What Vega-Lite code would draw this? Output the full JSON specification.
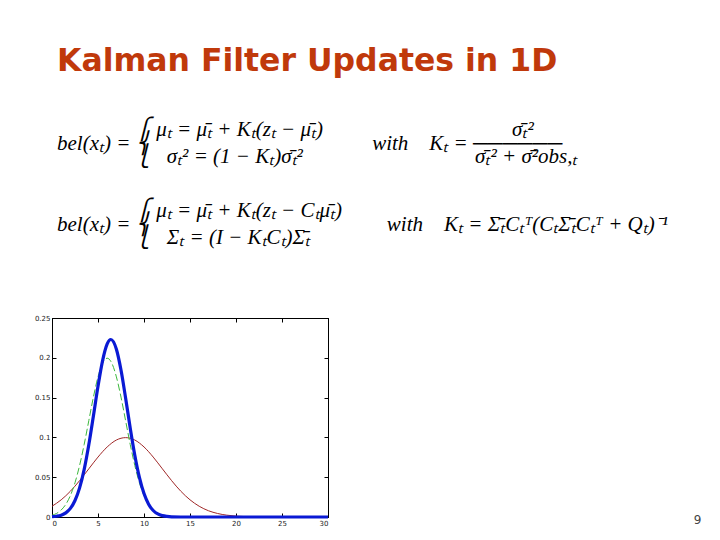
{
  "$schema": "https://vega.github.io/schema/vega-lite/v6.json",
  "width": 276,
  "height": 199,
  "autosize": {"type": "none"},
  "padding": {"left": 52, "top": 318, "right": 392, "bottom": 23},
  "background": "white",
  "title": {
    "text": "Kalman Filter Updates in 1D",
    "subtitle": [
      "\u2800\u2003\u2003\u2003⎧ μₜ = μ̄ₜ + Kₜ(zₜ − μ̄ₜ)\u2003\u2003\u2003\u2003\u2003\u2003\u2003\u2003\u2003σ̄ₜ²",
      "bel(xₜ) = ⎨\u2003\u2003\u2003\u2003\u2003\u2003\u2003\u2003\u2003\u2003\u2002with\u2003Kₜ = ──────",
      "\u2800\u2003\u2003\u2003⎩\u2002 σₜ² = (1 − Kₜ)σ̄ₜ²\u2003\u2003\u2003\u2003\u2003\u2003\u2003\u2002\u2002\u2009σ̄ₜ² + σ̄²obs,ₜ",
      "\u2800",
      "\u2800",
      "\u2800",
      "\u2800\u2003\u2003\u2003⎧ μₜ = μ̄ₜ + Kₜ(zₜ − Cₜμ̄ₜ)",
      "bel(xₜ) = ⎨\u2003\u2003\u2003\u2003\u2003\u2003\u2003\u2003\u2003\u2003\u2003\u2009with\u2003Kₜ = Σ̄ₜCₜᵀ(CₜΣ̄ₜCₜᵀ + Qₜ)⁻¹",
      "\u2800\u2003\u2003\u2003⎩\u2002 Σₜ = (I − KₜCₜ)Σ̄ₜ"
    ],
    "anchor": "start",
    "frame": "group",
    "dx": 5,
    "offset": 66,
    "font": "DejaVu Sans",
    "fontSize": 31.5,
    "fontWeight": "bold",
    "color": "#c0390b",
    "subtitleFont": "Liberation Serif",
    "subtitleFontSize": 21,
    "subtitleFontStyle": "italic",
    "subtitleColor": "#000000",
    "subtitleLineHeight": 13.5,
    "subtitlePadding": 42
  },
  "datasets": {
    "curves": [
      {"x": 0, "y": 0.0135, "series": "prior"},
      {"x": 1, "y": 0.0216, "series": "prior"},
      {"x": 2, "y": 0.0324, "series": "prior"},
      {"x": 3, "y": 0.0457, "series": "prior"},
      {"x": 4, "y": 0.0605, "series": "prior"},
      {"x": 5, "y": 0.0753, "series": "prior"},
      {"x": 6, "y": 0.088, "series": "prior"},
      {"x": 7, "y": 0.0967, "series": "prior"},
      {"x": 8, "y": 0.0997, "series": "prior"},
      {"x": 9, "y": 0.0967, "series": "prior"},
      {"x": 10, "y": 0.088, "series": "prior"},
      {"x": 11, "y": 0.0753, "series": "prior"},
      {"x": 12, "y": 0.0605, "series": "prior"},
      {"x": 13, "y": 0.0457, "series": "prior"},
      {"x": 14, "y": 0.0324, "series": "prior"},
      {"x": 15, "y": 0.0216, "series": "prior"},
      {"x": 16, "y": 0.0135, "series": "prior"},
      {"x": 17, "y": 0.0079, "series": "prior"},
      {"x": 18, "y": 0.0044, "series": "prior"},
      {"x": 19, "y": 0.0023, "series": "prior"},
      {"x": 20, "y": 0.0011, "series": "prior"},
      {"x": 21, "y": 0.0005, "series": "prior"},
      {"x": 22, "y": 0.0002, "series": "prior"},
      {"x": 23, "y": 0.0001, "series": "prior"},
      {"x": 24, "y": 0, "series": "prior"},
      {"x": 30, "y": 0, "series": "prior"},
      {"x": 0, "y": 0.0022, "series": "measurement"},
      {"x": 0.5, "y": 0.0045, "series": "measurement"},
      {"x": 1, "y": 0.0088, "series": "measurement"},
      {"x": 1.5, "y": 0.0159, "series": "measurement"},
      {"x": 2, "y": 0.027, "series": "measurement"},
      {"x": 2.5, "y": 0.0431, "series": "measurement"},
      {"x": 3, "y": 0.0648, "series": "measurement"},
      {"x": 3.5, "y": 0.0913, "series": "measurement"},
      {"x": 4, "y": 0.121, "series": "measurement"},
      {"x": 4.5, "y": 0.1506, "series": "measurement"},
      {"x": 5, "y": 0.176, "series": "measurement"},
      {"x": 5.5, "y": 0.1933, "series": "measurement"},
      {"x": 6, "y": 0.1995, "series": "measurement"},
      {"x": 6.5, "y": 0.1933, "series": "measurement"},
      {"x": 7, "y": 0.176, "series": "measurement"},
      {"x": 7.5, "y": 0.1506, "series": "measurement"},
      {"x": 8, "y": 0.121, "series": "measurement"},
      {"x": 8.5, "y": 0.0913, "series": "measurement"},
      {"x": 9, "y": 0.0648, "series": "measurement"},
      {"x": 9.5, "y": 0.0431, "series": "measurement"},
      {"x": 10, "y": 0.027, "series": "measurement"},
      {"x": 10.5, "y": 0.0159, "series": "measurement"},
      {"x": 11, "y": 0.0088, "series": "measurement"},
      {"x": 11.5, "y": 0.0045, "series": "measurement"},
      {"x": 12, "y": 0.0022, "series": "measurement"},
      {"x": 12.5, "y": 0.001, "series": "measurement"},
      {"x": 13, "y": 0.0004, "series": "measurement"},
      {"x": 14, "y": 0.0001, "series": "measurement"},
      {"x": 15, "y": 0, "series": "measurement"},
      {"x": 30, "y": 0, "series": "measurement"},
      {"x": 0, "y": 0.0004, "series": "posterior"},
      {"x": 0.5, "y": 0.001, "series": "posterior"},
      {"x": 1, "y": 0.0023, "series": "posterior"},
      {"x": 1.5, "y": 0.0052, "series": "posterior"},
      {"x": 2, "y": 0.0108, "series": "posterior"},
      {"x": 2.5, "y": 0.0207, "series": "posterior"},
      {"x": 3, "y": 0.0366, "series": "posterior"},
      {"x": 3.5, "y": 0.0599, "series": "posterior"},
      {"x": 4, "y": 0.0907, "series": "posterior"},
      {"x": 4.5, "y": 0.1269, "series": "posterior"},
      {"x": 5, "y": 0.1642, "series": "posterior"},
      {"x": 5.5, "y": 0.1965, "series": "posterior"},
      {"x": 6, "y": 0.2175, "series": "posterior"},
      {"x": 6.4, "y": 0.223, "series": "posterior"},
      {"x": 7, "y": 0.2108, "series": "posterior"},
      {"x": 7.5, "y": 0.1846, "series": "posterior"},
      {"x": 8, "y": 0.1495, "series": "posterior"},
      {"x": 8.5, "y": 0.1119, "series": "posterior"},
      {"x": 9, "y": 0.0776, "series": "posterior"},
      {"x": 9.5, "y": 0.0497, "series": "posterior"},
      {"x": 10, "y": 0.0294, "series": "posterior"},
      {"x": 10.5, "y": 0.0161, "series": "posterior"},
      {"x": 11, "y": 0.0082, "series": "posterior"},
      {"x": 11.5, "y": 0.0038, "series": "posterior"},
      {"x": 12, "y": 0.0017, "series": "posterior"},
      {"x": 12.5, "y": 0.0007, "series": "posterior"},
      {"x": 13, "y": 0.0002, "series": "posterior"},
      {"x": 14, "y": 0, "series": "posterior"},
      {"x": 30, "y": 0, "series": "posterior"}
    ]
  },
  "data": {"name": "curves"},
  "layer": [
    {
      "transform": [{"filter": "datum.series === 'prior'"}],
      "mark": {"type": "line", "color": "#a02828", "strokeWidth": 1, "interpolate": "monotone"},
      "encoding": {
        "x": {
          "field": "x", "type": "quantitative",
          "scale": {"domain": [0, 30], "nice": false},
          "axis": {
            "orient": "bottom", "values": [0, 5, 10, 15, 20, 25, 30], "format": "d",
            "grid": false, "tickSize": -4, "labelPadding": 6,
            "title": "9", "titleX": 645, "titleY": 6, "titleAlign": "center",
            "titleBaseline": "alphabetic", "titleFontWeight": "normal",
            "titleFontSize": 12, "titleColor": "#444444", "titleFont": "DejaVu Sans"
          }
        },
        "y": {
          "field": "y", "type": "quantitative",
          "scale": {"domain": [0, 0.25], "nice": false},
          "axis": {
            "orient": "left", "values": [0, 0.05, 0.1, 0.15, 0.2, 0.25], "format": "~g",
            "grid": false, "tickSize": -4, "labelPadding": 6, "title": null
          }
        }
      }
    },
    {
      "transform": [{"filter": "datum.series === 'measurement'"}],
      "mark": {"type": "line", "color": "#3cb83c", "strokeWidth": 1, "strokeDash": [7, 3], "interpolate": "monotone"},
      "encoding": {
        "x": {
          "field": "x", "type": "quantitative",
          "scale": {"domain": [0, 30], "nice": false},
          "axis": {"orient": "top", "values": [0, 5, 10, 15, 20, 25, 30], "labels": false, "grid": false, "tickSize": -4, "title": null}
        },
        "y": {
          "field": "y", "type": "quantitative",
          "scale": {"domain": [0, 0.25], "nice": false},
          "axis": {"orient": "right", "values": [0, 0.05, 0.1, 0.15, 0.2, 0.25], "labels": false, "grid": false, "tickSize": -4, "title": null}
        }
      }
    },
    {
      "transform": [{"filter": "datum.series === 'posterior'"}],
      "mark": {"type": "line", "color": "#0a1ad4", "strokeWidth": 3.2, "interpolate": "monotone"},
      "encoding": {
        "x": {"field": "x", "type": "quantitative", "scale": {"domain": [0, 30], "nice": false}, "axis": null},
        "y": {"field": "y", "type": "quantitative", "scale": {"domain": [0, 0.25], "nice": false}, "axis": null}
      }
    }
  ],
  "resolve": {"axis": {"x": "independent", "y": "independent"}},
  "config": {
    "view": {"stroke": "#000000", "strokeWidth": 1},
    "axis": {
      "domainColor": "#000000", "tickColor": "#000000",
      "labelFont": "DejaVu Sans", "labelFontSize": 7, "labelColor": "#222222"
    }
  }
}
